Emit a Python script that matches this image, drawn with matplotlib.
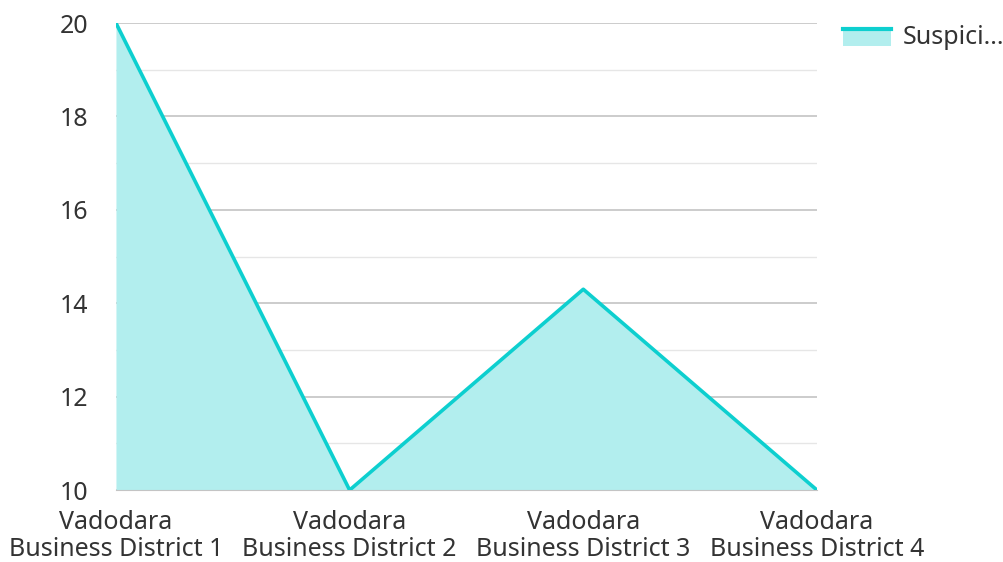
import matplotlib.pyplot as plt
from matplotlib.legend_handler import HandlerBase
from matplotlib.patches import Rectangle
from matplotlib.lines import Line2D
from matplotlib.ticker import MultipleLocator

plt.rcParams["font.family"] = ["Noto Sans", "DejaVu Sans"]

categories = [
    "Vadodara\nBusiness District 1",
    "Vadodara\nBusiness District 2",
    "Vadodara\nBusiness District 3",
    "Vadodara\nBusiness District 4",
]
values = [20, 10, 14.3, 10]
series_name = "Suspici..."

line_color = "#0dcfcf"
fill_color = "#b2eeee"


class AreaHandler(HandlerBase):
    # filled box with the line drawn along its top edge
    def create_artists(self, legend, orig_handle, xdescent, ydescent,
                       width, height, fontsize, trans):
        rect = Rectangle((-xdescent, -ydescent), width, height * 0.8,
                         facecolor=fill_color, edgecolor="none", transform=trans)
        line = Line2D([-xdescent, -xdescent + width],
                      [-ydescent + height * 0.8] * 2,
                      color=line_color, linewidth=3, transform=trans)
        return [rect, line]


fig = plt.figure(figsize=(10.04, 5.62), dpi=100)
ax = fig.add_axes([0.1155, 0.128, 0.6982, 0.831])

x = list(range(len(categories)))
ax.fill_between(x, values, 10, color=fill_color, linewidth=0, zorder=2)
ax.plot(x, values, color=line_color, linewidth=2.6, zorder=3)

ax.set_xlim(0, len(categories) - 1)
ax.set_ylim(10, 20)
ax.yaxis.set_major_locator(MultipleLocator(2))
ax.yaxis.set_minor_locator(MultipleLocator(1))
ax.grid(axis="y", which="major", color="#c4c4c4", linewidth=1.2, zorder=1)
ax.grid(axis="y", which="minor", color="#e6e6e6", linewidth=1, zorder=1)

ax.set_xticks(x, categories, linespacing=1.15)
ax.tick_params(axis="both", which="both", length=0, labelsize=18,
               labelcolor="#333333")
ax.tick_params(axis="x", pad=14)
ax.tick_params(axis="y", pad=20)
for s in ["top", "right", "left"]:
    ax.spines[s].set_visible(False)
ax.spines["bottom"].set_color("#c4c4c4")
ax.set_axisbelow(True)

fig.legend([object()], [series_name], handler_map={object: AreaHandler()},
           loc="upper left", bbox_to_anchor=(0.84, 0.955), frameon=False,
           fontsize=18, borderpad=0, borderaxespad=0, handlelength=1.9,
           handleheight=0.9, handletextpad=0.48, labelcolor="#333333")

fig.savefig("out.png", dpi=100)
